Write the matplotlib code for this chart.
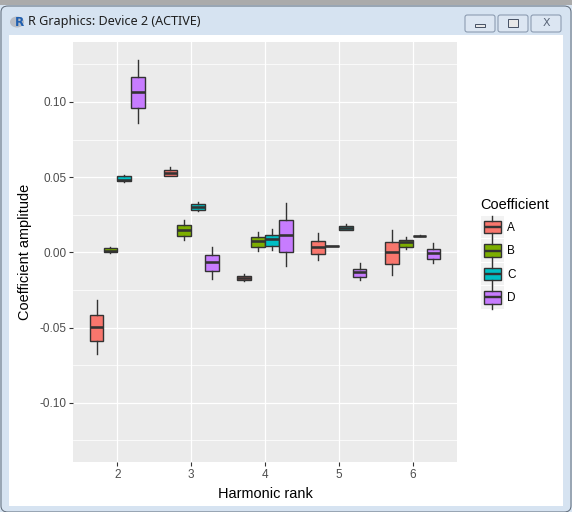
import matplotlib
matplotlib.use("Agg")
import matplotlib.pyplot as plt
from matplotlib.patches import Rectangle, FancyBboxPatch, Ellipse, Patch
from matplotlib.lines import Line2D
from matplotlib.legend_handler import HandlerBase

plt.rcParams['font.family'] = ['Liberation Sans', 'DejaVu Sans']

# data (box stats per coefficient, one entry per harmonic rank)
harmonics = [2, 3, 4, 5, 6]
coefs = ['A', 'B', 'C', 'D']
colors = ['#F8766D', '#7CAE00', '#00BFC4', '#C77CFF']

lo_A = [-0.0676, 0.0505, -0.0191, -0.0051, -0.0151]
q1_A = [-0.0587, 0.0507, -0.0182, -0.0009, -0.0075]
med_A = [-0.0499, 0.0525, -0.0171, 0.0033, 0.0000]
q3_A = [-0.0414, 0.0545, -0.0155, 0.0078, 0.0071]
hi_A = [-0.0319, 0.0565, -0.0142, 0.0126, 0.0146]

lo_B = [-0.0005, 0.0082, 0.0009, 0.0043, 0.0022]
q1_B = [0.0002, 0.0108, 0.0038, 0.0043, 0.0038]
med_B = [0.0011, 0.0146, 0.0073, 0.0044, 0.0066]
q3_B = [0.0031, 0.0180, 0.0104, 0.0045, 0.0084]
hi_B = [0.0038, 0.0213, 0.0137, 0.0045, 0.0104]

lo_C = [0.0468, 0.0275, 0.0015, 0.0148, 0.0106]
q1_C = [0.0474, 0.0281, 0.0045, 0.0151, 0.0107]
med_C = [0.0483, 0.0301, 0.0089, 0.0160, 0.0110]
q3_C = [0.0505, 0.0324, 0.0118, 0.0177, 0.0112]
hi_C = [0.0516, 0.0337, 0.0157, 0.0191, 0.0113]

lo_D = [0.0860, -0.0177, -0.0091, -0.0184, -0.0071]
q1_D = [0.0962, -0.0122, 0.0005, -0.0162, -0.0042]
med_D = [0.1066, -0.0064, 0.0113, -0.0133, -0.0007]
q3_D = [0.1168, -0.0015, 0.0217, -0.0108, 0.0025]
hi_D = [0.1277, 0.0038, 0.0326, -0.0073, 0.0060]

stats_by_coef = {
    'A': (lo_A, q1_A, med_A, q3_A, hi_A),
    'B': (lo_B, q1_B, med_B, q3_B, hi_B),
    'C': (lo_C, q1_C, med_C, q3_C, hi_C),
    'D': (lo_D, q1_D, med_D, q3_D, hi_D),
}

W, H = 572, 512
fig = plt.figure(figsize=(W / 72, H / 72), dpi=72)
fig.patch.set_facecolor('#D6E3F1')


def fx(x):
    return x / W


def fy(y):
    return 1 - y / H


def px_rect(x0, y0, x1, y1, **kw):
    return Rectangle((fx(x0), fy(y1)), fx(x1) - fx(x0), fy(y0) - fy(y1),
                     transform=fig.transFigure, zorder=-5, **kw)


# window chrome
fig.add_artist(px_rect(0, 0, W, 5, facecolor='#ABABAB', edgecolor='none'))
fig.add_artist(FancyBboxPatch((fx(1), fy(H)), fx(W - 2), fy(6) - fy(H),
                              boxstyle='round,pad=0,rounding_size=0.012',
                              transform=fig.transFigure, facecolor='#D6E3F1',
                              edgecolor='#5E6A78', lw=1, zorder=-5))
fig.add_artist(px_rect(9, 35, 563, 506, facecolor='white', edgecolor='none'))
fig.add_artist(Ellipse((fx(17), fy(22)), fx(14), fy(0) - fy(11),
                       transform=fig.transFigure, facecolor='#B8BCC4', edgecolor='none'))
fig.text(fx(19), fy(22), 'R', color='#1F5FB0', fontsize=12, fontweight='bold',
         ha='center', va='center', family=['DejaVu Sans'])
fig.text(fx(28), fy(22), 'R Graphics: Device 2 (ACTIVE)', color='#1E1E1E',
         fontsize=12.6, ha='left', va='center', family=['Noto Sans', 'DejaVu Sans'])
for bx0 in [465, 498, 531]:
    fig.add_artist(FancyBboxPatch((fx(bx0), fy(32)), fx(30), fy(15) - fy(32),
                                  boxstyle='round,pad=0,rounding_size=0.004',
                                  transform=fig.transFigure, facecolor='#DCE6F2',
                                  edgecolor='#8595AB', lw=1))
fig.add_artist(Rectangle((fx(475), fy(27)), fx(10), fy(24) - fy(27), transform=fig.transFigure,
                         facecolor='#E8E8E8', edgecolor='#4A5568', lw=1))
fig.add_artist(Rectangle((fx(508), fy(27)), fx(10), fy(19) - fy(27), transform=fig.transFigure,
                         facecolor='#E8E8E8', edgecolor='#4A5568', lw=1))
fig.text(fx(546), fy(23), 'X', color='#5A6678', fontsize=11, ha='center', va='center',
         family=['DejaVu Sans'])

# panel
px_left, px_right, px_top, px_bottom = 73, 457, 42, 462
ax = fig.add_axes([fx(px_left), fy(px_bottom), fx(px_right) - fx(px_left),
                   fy(px_top) - fy(px_bottom)])
ax.set_facecolor('#EBEBEB')
for s in ax.spines.values():
    s.set_visible(False)

lw = 1.4
dodge = 0.75
bw = dodge / len(coefs)
for i, c in enumerate(coefs):
    lo, q1, med, q3, hi = stats_by_coef[c]
    stats = [dict(whislo=lo[k], q1=q1[k], med=med[k], q3=q3[k], whishi=hi[k], fliers=[])
             for k in range(len(harmonics))]
    offset = -dodge / 2 + bw * (i + 0.5)
    ax.bxp(stats, positions=[h + offset for h in harmonics], widths=bw * 0.98,
           patch_artist=True, showcaps=False, showfliers=False, manage_ticks=False,
           boxprops=dict(facecolor=colors[i], edgecolor='#333333', linewidth=lw),
           medianprops=dict(color='#333333', linewidth=2.6, solid_capstyle='butt'),
           whiskerprops=dict(color='#333333', linewidth=lw))

ax.set_xlim(1.4, 6.6)
ax.set_ylim(-0.1393, 0.1398)
ax.set_xticks(harmonics)
ax.set_xticklabels([str(h) for h in harmonics])
yt = [-0.10, -0.05, 0.00, 0.05, 0.10]
ax.set_yticks(yt)
ax.set_yticklabels(['%.2f' % v for v in yt])
ax.set_yticks([-0.125, -0.075, -0.025, 0.025, 0.075, 0.125], minor=True)
ax.grid(True, which='major', color='white', linewidth=1.3)
ax.grid(True, which='minor', axis='y', color='white', linewidth=0.7)
ax.set_axisbelow(True)
ax.tick_params(which='major', length=3.7, width=1.1, color='#333333',
               labelcolor='#4D4D4D', labelsize=11.7, pad=3)
ax.tick_params(which='minor', length=0)

fig.text(fx(25), fy(252), 'Coefficient amplitude', rotation=90, fontsize=14.5,
         ha='center', va='center', color='black')
fig.text(fx(265), fy(494), 'Harmonic rank', fontsize=14.5, ha='center', va='center',
         color='black')


class BoxKey(HandlerBase):
    def create_artists(self, legend, orig_handle, xdescent, ydescent, width, height,
                       fontsize, trans):
        x0, y0 = -xdescent, -ydescent
        fc = orig_handle.get_facecolor()
        bg = Rectangle((x0, y0), width, height, facecolor='#F2F2F2', edgecolor='none',
                       transform=trans)
        bx = Rectangle((x0 + 0.12 * width, y0 + 0.22 * height), 0.76 * width, 0.56 * height,
                       facecolor=fc, edgecolor='#333333', lw=lw, transform=trans)
        cx = x0 + width / 2
        wl = Line2D([cx, cx], [y0, y0 + 0.22 * height], color='#333333', lw=lw,
                    transform=trans)
        wh = Line2D([cx, cx], [y0 + 0.78 * height, y0 + height], color='#333333', lw=lw,
                    transform=trans)
        md = Line2D([x0 + 0.12 * width, x0 + 0.88 * width], [y0 + height / 2] * 2,
                    color='#333333', lw=2.4, solid_capstyle='butt', transform=trans)
        return [bg, bx, wl, wh, md]


fig.text(fx(480), fy(205), 'Coefficient', fontsize=14.5, ha='left', va='center',
         color='black')
handles = [Patch(facecolor=col, label=c) for c, col in zip(coefs, colors)]
leg = fig.legend(handles=handles, handler_map={Patch: BoxKey()},
                 loc='upper left', bbox_to_anchor=(fx(481), fy(216)), frameon=False,
                 fontsize=11.7, handlelength=1.95, handleheight=2.55,
                 labelspacing=0.1, handletextpad=0.3, borderpad=0, borderaxespad=0)

fig.savefig('out.png', dpi=72, facecolor=fig.get_facecolor())
